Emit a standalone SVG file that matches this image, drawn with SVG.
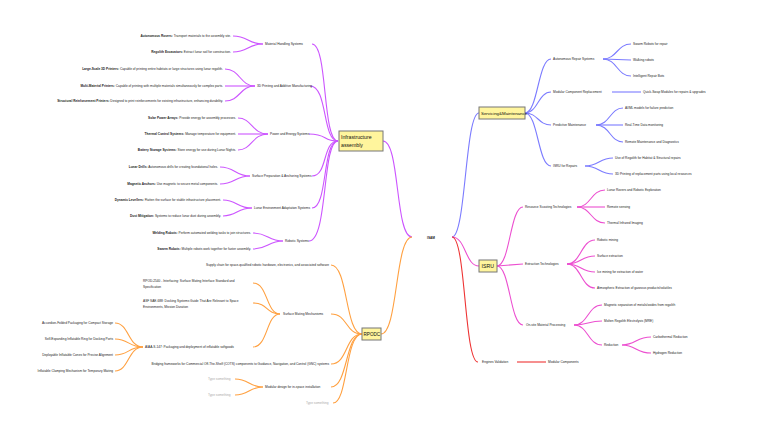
<svg xmlns="http://www.w3.org/2000/svg" width="768" height="427" viewBox="0 0 768 427">
<style>
text{font-family:"Liberation Sans",Arial,sans-serif;font-size:3.2px;fill:#222}
.e{text-anchor:end}
.b{font-weight:bold}
.box{fill:#fff59d;stroke:#777;stroke-width:1}
.bt{font-size:5.2px;fill:#111}
.g{fill:#aaa}
path{fill:none;stroke-width:1.1}
.p path{stroke:#cc55ff}.o path{stroke:#ffa040}.bl path{stroke:#7b7bff}.pk path{stroke:#ec4fd0}.r path{stroke:#ee3333}
</style>
<rect width="768" height="427" fill="#fff"/>
<g id="connectors">
<g class="p">
<path d="M412 237 C395 237,400 141,383 141"/>
<path d="M338 141 C322 141,328 44,312 44"/><path d="M338 141 C322 141,328 86,310 86"/><path d="M338 141 C322 141,328 134,309 134"/><path d="M338 141 C322 141,328 176,312 176"/><path d="M338 141 C322 141,328 208,312 208"/><path d="M338 141 C322 141,328 241,309 241"/>
<path d="M263 44 C248 44,248 36,233 36"/><path d="M263 44 C248 44,248 52,233 52"/>
<path d="M255 86 C240 86,240 69,225 69"/><path d="M255 86 L225 86"/><path d="M255 86 C240 86,240 101,225 101"/>
<path d="M268 134 C252 134,252 118,238 118"/><path d="M268 134 L238 134"/><path d="M268 134 C252 134,252 150,238 150"/>
<path d="M250 176 C235 176,235 167,220 167"/><path d="M250 176 C235 176,235 184,220 184"/>
<path d="M252 208 C237 208,237 200,223 200"/><path d="M252 208 C237 208,237 216,223 216"/>
<path d="M283 241 C268 241,268 233,253 233"/><path d="M283 241 C268 241,268 249,253 249"/>
</g>
<g class="o">
<path d="M412 237 C395 237,398 334,381 334"/>
<path d="M362 334 C345 334,348 265,331 265"/><path d="M362 334 C345 334,348 314,331 314"/><path d="M362 334 C345 334,348 364,331 364"/><path d="M362 334 C345 334,348 387,331 387"/><path d="M362 334 C345 334,348 403,333 403"/>
<path d="M280 314 C266 314,268 283,253 283"/><path d="M280 314 C266 314,268 303,253 303"/><path d="M280 314 C266 314,268 347,253 347"/>
<path d="M143 347 C128 347,129 323,115 323"/><path d="M143 347 C128 347,129 339,115 339"/><path d="M143 347 C128 347,129 355,115 355"/><path d="M143 347 C128 347,129 371,115 371"/>
<path d="M263 387 C249 387,249 379,235 379"/><path d="M263 387 C249 387,249 395,235 395"/>
</g>
<g class="bl">
<path d="M452 237 C466 237,465 113,479 113"/>
<path d="M525 113 C538 113,538 59,551 59"/><path d="M525 113 C538 113,538 92,551 92"/><path d="M525 113 C538 113,538 125,551 125"/><path d="M525 113 C538 113,538 166,551 166"/>
<path d="M603 59 C617 59,617 44,631 44"/><path d="M603 59 L631 60"/><path d="M603 59 C617 59,617 76,631 76"/>
<path d="M612 92 L641 92"/>
<path d="M596 125 C610 125,610 108,623 108"/><path d="M596 125 L623 125"/><path d="M596 125 C610 125,610 142,623 142"/>
<path d="M585 166 C599 166,599 158,613 158"/><path d="M585 166 C599 166,599 174,613 174"/>
</g>
<g class="pk">
<path d="M452 237 C466 237,465 266,479 266"/>
<path d="M497 266 C510 266,510 207,523 207"/><path d="M497 266 L523 264"/><path d="M497 266 C510 266,510 325,523 325"/>
<path d="M577 207 C591 207,591 190,605 190"/><path d="M577 207 L605 207"/><path d="M577 207 C591 207,591 223,605 223"/>
<path d="M567 264 C581 264,581 240,595 240"/><path d="M567 264 C581 264,581 256,595 256"/><path d="M567 264 C581 264,581 272,595 272"/><path d="M567 264 C581 264,581 288,595 288"/>
<path d="M574 325 C588 325,588 305,602 305"/><path d="M574 325 C588 325,588 321,602 321"/><path d="M574 325 C588 325,588 345,602 345"/>
<path d="M622 345 C636 345,636 337,651 337"/><path d="M622 345 C636 345,636 353,651 353"/>
</g>
<g class="r">
<path d="M452 237 C466 237,464 362,478 362"/><path d="M517 362 L546 362"/>
</g>
</g>
<g id="isam"><text x="427" y="238.5" class="b">ISAM</text></g>
<g id="infra"><rect class="box" x="339" y="131" width="44" height="20"/><text class="bt" x="341" y="139">Infrastructure</text><text class="bt" x="341" y="147">assembly</text></g>
<g id="infra-children">
<text x="265" y="45.2">Material Handling Systems</text>
<text x="257" y="87.2">3D Printing and Additive Manufacturing</text>
<text x="270" y="135.2">Power and Energy Systems</text>
<text x="252" y="177.2">Surface Preparation &amp; Anchoring Systems</text>
<text x="254" y="209.2">Lunar Environment Adaptation Systems</text>
<text x="285" y="242.2">Robotic Systems</text>
<text class="e" x="231" y="37.2"><tspan class="b">Autonomous Rovers:</tspan> Transport materials to the assembly site.</text>
<text class="e" x="231" y="53.2"><tspan class="b">Regolith Excavators:</tspan> Extract lunar soil for construction.</text>
<text class="e" x="223" y="70.2"><tspan class="b">Large-Scale 3D Printers:</tspan> Capable of printing entire habitats or large structures using lunar regolith.</text>
<text class="e" x="223" y="87.2"><tspan class="b">Multi-Material Printers:</tspan> Capable of printing with multiple materials simultaneously for complex parts.</text>
<text class="e" x="223" y="102.2"><tspan class="b">Structural Reinforcement Printers:</tspan> Designed to print reinforcements for existing infrastructure, enhancing durability.</text>
<text class="e" x="236" y="119.2"><tspan class="b">Solar Power Arrays:</tspan> Provide energy for assembly processes.</text>
<text class="e" x="236" y="135.2"><tspan class="b">Thermal Control Systems:</tspan> Manage temperature for equipment.</text>
<text class="e" x="236" y="151.2"><tspan class="b">Battery Storage Systems:</tspan> Store energy for use during Lunar Nights.</text>
<text class="e" x="218" y="168.2"><tspan class="b">Lunar Drills:</tspan> Autonomous drills for creating foundational holes.</text>
<text class="e" x="218" y="185.2"><tspan class="b">Magnetic Anchors:</tspan> Use magnetic to secure metal components.</text>
<text class="e" x="221" y="201.2"><tspan class="b">Dynamic Levellers:</tspan> Flatten the surface for stable infrastructure placement.</text>
<text class="e" x="221" y="217.2"><tspan class="b">Dust Mitigation:</tspan> Systems to reduce lunar dust during assembly.</text>
<text class="e" x="251" y="234.2"><tspan class="b">Welding Robots:</tspan> Perform automated welding tasks to join structures.</text>
<text class="e" x="251" y="250.2"><tspan class="b">Swarm Robots:</tspan> Multiple robots work together for faster assembly.</text>
</g>
<g id="rpodc"><rect class="box" x="362" y="328" width="19" height="12"/><text class="bt" x="363.5" y="335.8" style="font-size:4.6px">RPODC</text></g>
<g id="rpodc-children">
<text class="e" x="329" y="266.2">Supply chain for space-qualified robotic hardware, electronics, and associated software</text>
<text x="283" y="315.2">Surface Mating Mechanisms</text>
<text x="143" y="282">RPOD-2540 - Interfacing: Surface Mating Interface Standard and</text><text x="143" y="288">Specification</text>
<text x="143" y="302">ASF SAE-688: Docking Systems Guide That Are Relevant to Space</text><text x="143" y="308">Environments, Mission Duration</text>
<text x="145" y="348.2">AIAA-S-147: Packaging and deployment of inflatable softgoods</text>
<text class="e" x="113" y="324.2">Accordion-Folded Packaging for Compact Storage</text>
<text class="e" x="113" y="340.2">Self-Expanding Inflatable Ring for Docking Ports</text>
<text class="e" x="113" y="356.2">Deployable Inflatable Cones for Precise Alignment</text>
<text class="e" x="113" y="372.2">Inflatable Clamping Mechanism for Temporary Mating</text>
<text class="e" x="329" y="365.2">Bridging frameworks for Commercial Off-The-Shelf (COTS) components to Guidance, Navigation, and Control (GNC) systems</text>
<text x="265" y="388.2">Modular design for in-space installation</text>
<text class="g" x="208" y="380.2">Type something</text><text class="g" x="208" y="396.2">Type something</text>
<text class="g" x="306" y="404.2">Type something</text>
</g>
<g id="servicing"><rect class="box" x="479" y="107" width="46" height="12"/><text class="bt" x="481" y="114.8" style="font-size:4.4px">Servicing&amp;Maintenance</text></g>
<g id="servicing-children">
<text x="553" y="60.2">Autonomous Repair Systems</text>
<text x="553" y="93.2">Modular Component Replacement</text>
<text x="553" y="126.2">Predictive Maintenance</text>
<text x="553" y="167.2">ISRU for Repairs</text>
<text x="633" y="45.2">Swarm Robots for repair</text><text x="633" y="61.2">Walking robots</text><text x="633" y="77.2">Intelligent Repair Bots</text>
<text x="643" y="93.2">Quick-Swap Modules for repairs &amp; upgrades</text>
<text x="625" y="109.2">AI/ML models for failure prediction</text><text x="625" y="126.2">Real-Time Data monitoring</text><text x="625" y="143.2">Remote Maintenance and Diagnostics</text>
<text x="615" y="159.2">Use of Regolith for Habitat &amp; Structural repairs</text><text x="615" y="175.2">3D Printing of replacement parts using local resources</text>
</g>
<g id="isru"><rect class="box" x="479" y="260" width="18" height="12"/><text class="bt" x="481.5" y="268">ISRU</text></g>
<g id="isru-children">
<text x="525" y="208.2">Resource Scouting Technologies</text>
<text x="525" y="265.2">Extraction Technologies</text>
<text x="526" y="326.2">On-site Material Processing</text>
<text x="607" y="191.2">Lunar Rovers and Robotic Exploration</text><text x="607" y="208.2">Remote sensing</text><text x="607" y="224.2">Thermal Infrared Imaging</text>
<text x="597" y="241.2">Robotic mining</text><text x="597" y="257.2">Surface extraction</text><text x="597" y="273.2">Ice mining for extraction of water</text><text x="597" y="289.2">Atmospheric Extraction of gaseous products/volatiles</text>
<text x="604" y="306.2">Magnetic separation of metals/oxides from regolith</text><text x="604" y="322.2">Molten Regolith Electrolysis (MRE)</text><text x="604" y="346.2">Reduction</text>
<text x="653" y="338.2">Carbothermal Reduction</text><text x="653" y="354.2">Hydrogen Reduction</text>
</g>
<g id="engines"><text x="482" y="363.2">Engines Validation</text><text x="548" y="363.2">Modular Components</text></g>
</svg>
